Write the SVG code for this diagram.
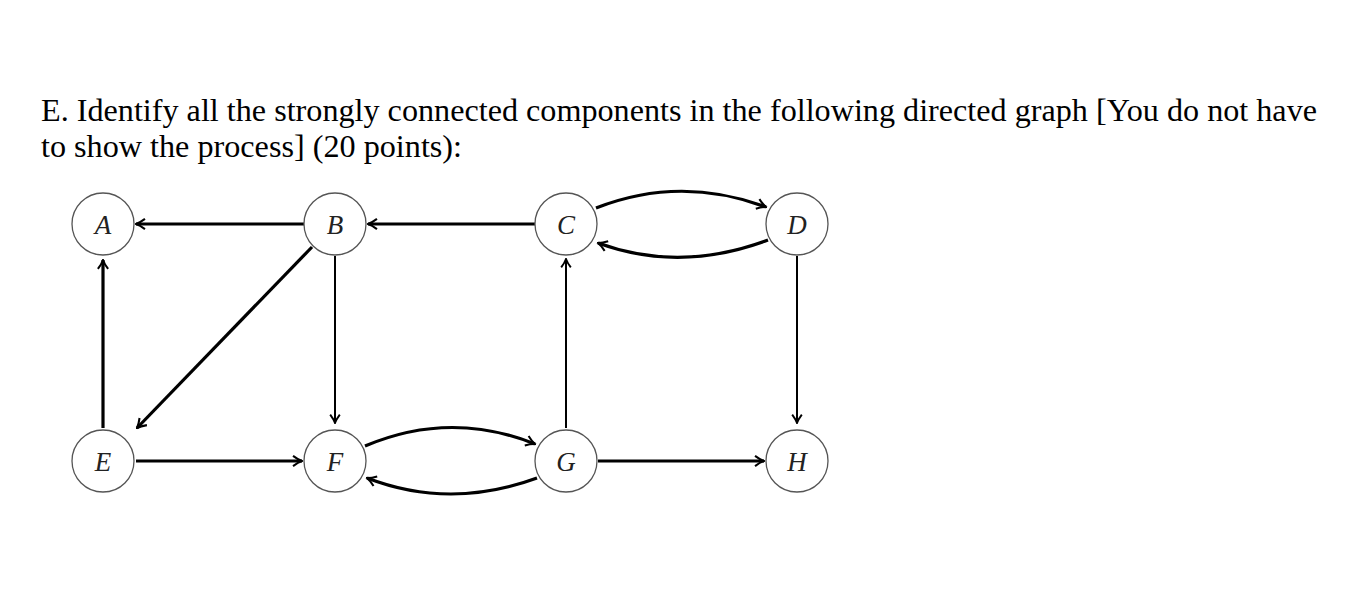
<svg xmlns="http://www.w3.org/2000/svg" width="1366" height="614" viewBox="0 0 1366 614">
<style>
.t{font-family:"Liberation Serif",serif;font-size:32px;fill:#000}
.n circle{fill:#fff;stroke:#555;stroke-width:1.3}
.n text{font-family:"Liberation Serif",serif;font-style:italic;font-size:27px;fill:#222;text-anchor:middle}
.e path{fill:none;stroke:#000}
.k{stroke-width:3.2}
.s{stroke-width:2}
</style>
<defs>
<marker id="m" viewBox="0 0 10 10" refX="9" refY="5" markerWidth="4" markerHeight="4" orient="auto" markerUnits="strokeWidth"><path d="M2,1 Q6,4 9,5 Q6,6 2,9" fill="none" stroke="#000" stroke-width="1.6"/></marker>
<marker id="m2" viewBox="0 0 10 10" refX="9" refY="5" markerWidth="6" markerHeight="6" orient="auto" markerUnits="strokeWidth"><path d="M2,1 Q6,4 9,5 Q6,6 2,9" fill="none" stroke="#000" stroke-width="1.6"/></marker>
</defs>
<rect width="1366" height="614" fill="#fff"/>
<text class="t" x="41" y="121" textLength="1276" lengthAdjust="spacingAndGlyphs">E. Identify all the strongly connected components in the following directed graph [You do not have</text>
<text class="t" x="41" y="157" textLength="421" lengthAdjust="spacingAndGlyphs">to show the process] (20 points):</text>
<g class="e">
<path class="k" d="M304,224 H136" marker-end="url(#m)"/>
<path class="k" d="M535,224 H368" marker-end="url(#m)"/>
<path class="k" d="M596,208 Q680,175 766,207" marker-end="url(#m)"/>
<path class="k" d="M768,240 Q680,273 598,243" marker-end="url(#m)"/>
<path class="s" d="M797,256 V423" marker-end="url(#m2)"/>
<path class="s" d="M566,428 V259" marker-end="url(#m2)"/>
<path class="s" d="M335,256 V423" marker-end="url(#m2)"/>
<path class="k" d="M312,247 L137,428" marker-end="url(#m)"/>
<path class="k" d="M103,428 V260" marker-end="url(#m)"/>
<path class="k" d="M136,461 H302" marker-end="url(#m)"/>
<path class="k" d="M365,446 Q450,410 535,444" marker-end="url(#m)"/>
<path class="k" d="M537,478 Q450,510 367,478" marker-end="url(#m)"/>
<path class="k" d="M598,461 H764" marker-end="url(#m)"/>
</g>
<g id="A" class="n"><circle cx="103" cy="224" r="31"/><text x="103" y="234">A</text></g>
<g id="B" class="n"><circle cx="335" cy="224" r="31"/><text x="335" y="234">B</text></g>
<g id="C" class="n"><circle cx="566" cy="224" r="31"/><text x="566" y="234">C</text></g>
<g id="D" class="n"><circle cx="797" cy="224" r="31"/><text x="797" y="234">D</text></g>
<g id="E" class="n"><circle cx="103" cy="461" r="31"/><text x="103" y="471">E</text></g>
<g id="F" class="n"><circle cx="335" cy="461" r="31"/><text x="335" y="471">F</text></g>
<g id="G" class="n"><circle cx="566" cy="461" r="31"/><text x="566" y="471">G</text></g>
<g id="H" class="n"><circle cx="797" cy="461" r="31"/><text x="797" y="471">H</text></g>
</svg>
